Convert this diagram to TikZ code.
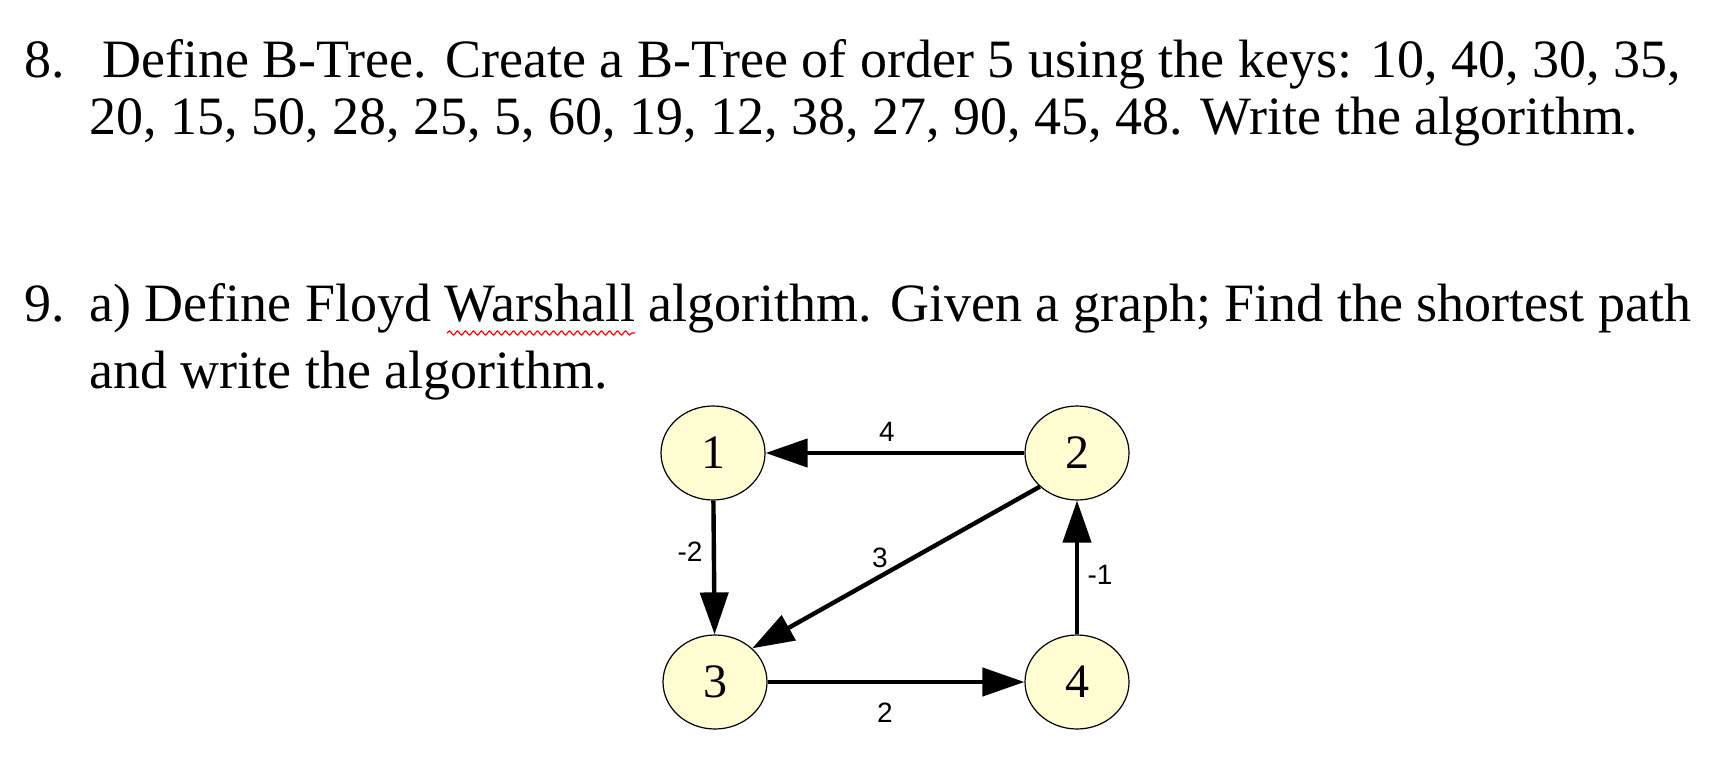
\documentclass[tikz,border=0pt]{standalone}
\usepackage{fontspec}
\setmainfont{Liberation Serif}
\newfontfamily\lblfont{Liberation Sans}
\usetikzlibrary{arrows.meta,decorations.pathmorphing,shapes.geometric}
\begin{document}
\begin{tikzpicture}[x=0.5pt,y=-0.5pt,
  txt/.style={anchor=base west,inner sep=0pt,font=\fontsize{27}{32}\selectfont},
  vtx/.style={ellipse,draw,line width=0.6pt,fill=yellow!18,minimum width=52pt,minimum height=47pt,inner sep=0pt,font=\fontsize{24}{28}\selectfont},
  edge/.style={line width=2.2pt,-{Triangle[length=21pt,width=14pt]}},
  wl/.style={font=\lblfont\fontsize{14}{16}\selectfont,inner sep=0pt}]
\useasboundingbox (0,0) rectangle (1732,774);
\node[txt] (n8) at (24,78) {8.};
\node[txt] (l1) at (102,78) {Define B-Tree. Create a B-Tree of order 5 using the keys: 10, 40, 30, 35,};
\node[txt] (l2) at (89,135) {20, 15, 50, 28, 25, 5, 60, 19, 12, 38, 27, 90, 45, 48. Write the algorithm.};
\node[txt] (n9) at (24,322) {9.};
\node[txt] (l3) at (89,322) {a) Define Floyd Warshall algorithm. Given a graph; Find the shortest path};
\node[txt] (l4) at (89,389) {and write the algorithm.};
\draw[red,line width=0.6pt,decorate,decoration={snake,amplitude=1pt,segment length=4pt}] (447,333) -- (635,333);
\node[vtx] (v1) at (713,453) {1};
\node[vtx] (v2) at (1077,453) {2};
\node[vtx] (v3) at (715,682) {3};
\node[vtx] (v4) at (1077,682) {4};
\draw[edge] (v2) -- (v1);
\draw[edge] (v1) -- (v3);
\draw[edge] (v2.south west) -- (v3.north east);
\draw[edge] (v3) -- (v4);
\draw[edge] (v4) -- (v2);
\node[wl] (w4) at (887,432) {4};
\node[wl] (wm2) at (690,552) {-2};
\node[wl] (w3) at (880,558) {3};
\node[wl] (wm1) at (1100,575) {-1};
\node[wl] (w2) at (885,713) {2};
\end{tikzpicture}
\end{document}
